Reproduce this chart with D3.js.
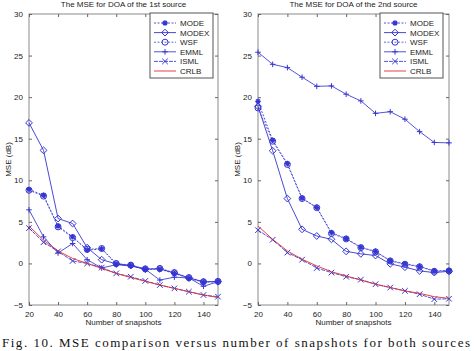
<!DOCTYPE html>
<html>
<head>
<meta charset="utf-8">
<script src="https://cdn.jsdelivr.net/npm/d3@7"></script>
<style>
  body { margin: 0; background: #fff; overflow: hidden; }
  svg { display: block; }
</style>
</head>
<body>
<svg id="chart" width="474" height="351"></svg>
<script>
// number of snapshots
const snapshots = [20, 30, 40, 50, 60, 70, 80, 90, 100, 110, 120, 130, 140, 150];
const xTicks = [20, 40, 60, 80, 100, 120, 140];
const yTicks = [-5, 0, 5, 10, 15, 20, 25, 30];

// 1st source
const mode1  = [8.9, 8.2, 4.5, 3.2, 1.6, 1.75, -0.1, -0.25, -0.7, -0.7, -1.2, -1.8, -2.25, -2.2];
const modex1 = [16.9, 13.6, 5.4, 4.8, 1.9, 0.45, -0.05, -0.25, -0.7, -0.65, -1.15, -1.75, -2.2, -2.2];
const wsf1   = [8.8, 8.1, 4.4, 3.1, 1.7, 1.8, 0.0, -0.2, -0.65, -0.6, -1.1, -1.7, -2.2, -2.15];
const emml1  = [6.45, 3.2, 1.25, 2.4, 0.45, -0.55, -0.15, -0.3, -0.7, -2.0, -1.65, -1.75, -2.75, -2.2];
const isml1  = [4.25, 2.55, 1.45, 0.3, 0.0, -0.5, -1.2, -1.6, -2.1, -2.6, -3.0, -3.4, -3.8, -4.0];
const crlb1  = [4.5, 2.8, 1.5, 0.6, 0.0, -0.6, -1.2, -1.7, -2.15, -2.6, -3.0, -3.4, -3.8, -4.1];

// 2nd source
const mode2  = [19.5, 14.8, 12.0, 7.85, 6.75, 3.7, 3.0, 1.95, 1.45, 0.35, -0.05, -0.35, -0.9, -0.85];
const modex2 = [18.9, 13.55, 7.8, 4.1, 3.3, 2.9, 1.45, 1.15, 0.95, -0.05, -0.45, -0.9, -1.1, -0.95];
const wsf2   = [18.7, 14.7, 11.9, 7.8, 6.7, 3.6, 2.95, 1.9, 1.4, 0.3, -0.1, -0.4, -0.95, -0.9];
const emml2  = [25.4, 23.95, 23.55, 22.4, 21.3, 21.35, 20.35, 19.55, 18.05, 18.25, 17.35, 15.85, 14.55, 14.5];
const isml2  = [4.0, 2.85, 1.3, 0.45, -0.55, -1.1, -1.6, -1.95, -2.5, -2.9, -3.3, -3.7, -4.3, -4.25];
const crlb2  = [4.5, 2.9, 1.5, 0.5, -0.3, -1.0, -1.5, -2.0, -2.5, -2.9, -3.3, -3.6, -4.0, -4.2];

const seriesNames = ["MODE", "MODEX", "WSF", "EMML", "ISML", "CRLB"];

const blue = "#3535d2";
const styles = {
  MODE:  {color: blue, dash: "2,1.5", marker: "asterisk", op: 0.85},
  MODEX: {color: blue, dash: null, marker: "diamond", op: 0.9},
  WSF:   {color: blue, dash: "2,1.5", marker: "circle", op: 0.75},
  EMML:  {color: blue, dash: null, marker: "plus", op: 0.85},
  ISML:  {color: blue, dash: "4,1", marker: "cross", op: 0.85},
  CRLB:  {color: "#e03030", dash: null, marker: null, op: 0.9}
};

function markerPath(type, s) {
  if (type === "plus") return `M${-s},0H${s}M0,${-s}V${s}`;
  if (type === "cross") return `M${-s},${-s}L${s},${s}M${-s},${s}L${s},${-s}`;
  if (type === "asterisk") {
    const t = s * 0.7;
    return `M${-s},0H${s}M0,${-s}V${s}M${-t},${-t}L${t},${t}M${-t},${t}L${t},${-t}`;
  }
  if (type === "diamond") return `M0,${-s}L${s},0L0,${s}L${-s},0Z`;
  return null;
}

function drawMarker(g, type, x, y, color) {
  if (!type) return;
  if (type === "circle") {
    g.append("circle").attr("cx", x).attr("cy", y).attr("r", 3)
      .attr("fill", "none").attr("stroke", color).attr("stroke-width", 1);
  } else {
    const s = type === "diamond" ? 3.4 : 2.8;
    g.append("path").attr("d", markerPath(type, s))
      .attr("transform", `translate(${x},${y})`)
      .attr("fill", "none").attr("stroke", color)
      .attr("stroke-width", type === "asterisk" ? 1.3 : 1);
  }
}

const svg = d3.select("#chart");
const font = "'Liberation Sans', Arial, sans-serif";

function panel(left, right, title, data, legendX) {
  const top = 14, bottom = 305;
  const x = d3.scaleLinear().domain([20, 150]).range([left, right]);
  const y = d3.scaleLinear().domain([-5, 30]).range([bottom, top]);
  const g = svg.append("g");

  // frame
  g.append("rect").attr("x", left).attr("y", top)
    .attr("width", right - left).attr("height", bottom - top)
    .attr("fill", "#fff").attr("stroke", "#8a8a8a").attr("stroke-width", 1);

  // inward ticks on all sides
  const axB = d3.axisBottom(x).tickValues(xTicks).tickSizeInner(-3).tickSizeOuter(0).tickPadding(6);
  const axT = d3.axisTop(x).tickValues(xTicks).tickSizeInner(-3).tickSizeOuter(0).tickFormat("");
  const axL = d3.axisLeft(y).tickValues(yTicks).tickSizeInner(-3).tickSizeOuter(0).tickPadding(6);
  const axR = d3.axisRight(y).tickValues(yTicks).tickSizeInner(-3).tickSizeOuter(0).tickFormat("");

  [[axB, `translate(0,${bottom})`], [axT, `translate(0,${top})`],
   [axL, `translate(${left},0)`], [axR, `translate(${right},0)`]].forEach(([ax, tr]) => {
    const a = g.append("g").attr("transform", tr).call(ax);
    a.select(".domain").remove();
    a.selectAll("line").attr("stroke", "#666");
    a.selectAll("text").style("font", `8px ${font}`).attr("fill", "#222");
  });

  // lines
  seriesNames.forEach(name => {
    const st = styles[name];
    const vals = data[name];
    const line = d3.line().x((d, i) => x(snapshots[i])).y(d => y(d));
    g.append("path").datum(vals).attr("d", line)
      .attr("fill", "none").attr("stroke", st.color).attr("stroke-width", 1)
      .attr("stroke-opacity", st.op)
      .attr("stroke-dasharray", st.dash);
    vals.forEach((v, i) => drawMarker(g, st.marker, x(snapshots[i]), y(v), st.color));
  });

  // title and labels
  g.append("text").attr("x", (left + right) / 2).attr("y", 7)
    .attr("text-anchor", "middle").style("font", `8px ${font}`).attr("fill", "#222")
    .text(title);
  g.append("text").attr("x", (left + right) / 2).attr("y", 325)
    .attr("text-anchor", "middle").style("font", `8px ${font}`).attr("fill", "#222")
    .text("Number of snapshots");
  g.append("text")
    .attr("transform", `translate(${left - 18},${(top + bottom) / 2}) rotate(-90)`)
    .attr("text-anchor", "middle").style("font", `8px ${font}`).attr("fill", "#222")
    .text("MSE (dB)");

  // legend
  const lx = legendX, ly = 13, lw = 63, lh = 65;
  const lg = g.append("g");
  lg.append("rect").attr("x", lx).attr("y", ly).attr("width", lw).attr("height", lh)
    .attr("fill", "#fff").attr("stroke", "#555").attr("stroke-width", 1);
  seriesNames.forEach((name, i) => {
    const st = styles[name];
    const yy = ly + 10 + i * 9.6;
    lg.append("line").attr("x1", lx + 4).attr("x2", lx + 26).attr("y1", yy).attr("y2", yy)
      .attr("stroke", st.color).attr("stroke-width", 1).attr("stroke-opacity", st.op)
      .attr("stroke-dasharray", st.dash);
    drawMarker(lg, st.marker, lx + 15, yy, st.color);
    lg.append("text").attr("x", lx + 30).attr("y", yy + 3)
      .style("font", `8px ${font}`).attr("fill", "#222").text(name);
  });
}

panel(29, 218, "The MSE for DOA of the 1st source",
  {MODE: mode1, MODEX: modex1, WSF: wsf1, EMML: emml1, ISML: isml1, CRLB: crlb1}, 150);
panel(258, 449, "The MSE for DOA of the 2nd source",
  {MODE: mode2, MODEX: modex2, WSF: wsf2, EMML: emml2, ISML: isml2, CRLB: crlb2}, 380);

// figure caption
svg.append("text").attr("x", 2).attr("y", 347)
  .attr("textLength", 468).attr("lengthAdjust", "spacing")
  .style("font", "13px 'Liberation Serif', 'Times New Roman', serif").attr("fill", "#111")
  .text("Fig. 10.   MSE comparison versus number of snapshots for both sources");
</script>
</body>
</html>
